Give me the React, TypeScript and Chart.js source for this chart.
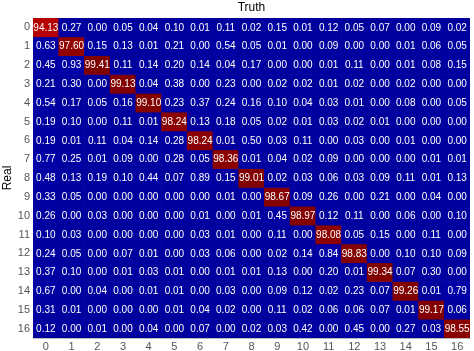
import React, { useEffect, useRef } from "react";
import { Chart, registerables } from "chart.js";

Chart.register(...registerables);

const truthLabels = ["0","1","2","3","4","5","6","7","8","9","10","11","12","13","14","15","16"];
const realLabels = ["0","1","2","3","4","5","6","7","8","9","10","11","12","13","14","15","16"];

const row0 = [94.13,0.27,0.00,0.05,0.04,0.10,0.01,0.11,0.02,0.15,0.01,0.12,0.05,0.07,0.00,0.09,0.02];
const row1 = [0.63,97.60,0.15,0.13,0.01,0.21,0.00,0.54,0.05,0.01,0.00,0.09,0.00,0.00,0.01,0.06,0.05];
const row2 = [0.45,0.93,99.41,0.11,0.14,0.20,0.14,0.04,0.17,0.00,0.00,0.01,0.11,0.00,0.01,0.08,0.15];
const row3 = [0.21,0.30,0.00,99.13,0.04,0.38,0.00,0.23,0.00,0.02,0.02,0.01,0.02,0.00,0.02,0.00,0.00];
const row4 = [0.54,0.17,0.05,0.16,99.10,0.23,0.37,0.24,0.16,0.10,0.04,0.03,0.01,0.00,0.08,0.00,0.05];
const row5 = [0.19,0.10,0.00,0.11,0.01,98.24,0.13,0.18,0.05,0.02,0.01,0.03,0.02,0.01,0.00,0.00,0.00];
const row6 = [0.19,0.01,0.11,0.04,0.14,0.28,98.24,0.01,0.50,0.03,0.11,0.00,0.03,0.00,0.01,0.00,0.00];
const row7 = [0.77,0.25,0.01,0.09,0.00,0.28,0.05,98.36,0.01,0.04,0.02,0.09,0.00,0.00,0.00,0.01,0.01];
const row8 = [0.48,0.13,0.19,0.10,0.44,0.07,0.89,0.15,99.01,0.02,0.03,0.06,0.03,0.09,0.11,0.01,0.13];
const row9 = [0.33,0.05,0.00,0.00,0.00,0.00,0.00,0.01,0.00,98.67,0.09,0.26,0.00,0.21,0.00,0.04,0.00];
const row10 = [0.26,0.00,0.03,0.00,0.00,0.00,0.01,0.00,0.01,0.45,98.97,0.12,0.11,0.00,0.06,0.00,0.10];
const row11 = [0.10,0.03,0.00,0.00,0.00,0.00,0.03,0.01,0.00,0.11,0.00,98.08,0.05,0.15,0.00,0.11,0.00];
const row12 = [0.24,0.05,0.00,0.07,0.01,0.00,0.03,0.06,0.00,0.02,0.14,0.84,98.83,0.00,0.10,0.10,0.09];
const row13 = [0.37,0.10,0.00,0.01,0.03,0.01,0.00,0.01,0.01,0.13,0.00,0.20,0.01,99.34,0.07,0.30,0.00];
const row14 = [0.67,0.00,0.04,0.00,0.01,0.01,0.00,0.03,0.00,0.09,0.12,0.02,0.23,0.07,99.26,0.01,0.79];
const row15 = [0.31,0.01,0.00,0.00,0.00,0.01,0.04,0.02,0.00,0.11,0.02,0.06,0.06,0.07,0.01,99.17,0.06];
const row16 = [0.12,0.00,0.01,0.00,0.04,0.00,0.07,0.00,0.02,0.03,0.42,0.00,0.45,0.00,0.27,0.03,98.55];

const matrix = [row0,row1,row2,row3,row4,row5,row6,row7,row8,row9,row10,row11,row12,row13,row14,row15,row16];

const maxVal = Math.max(...matrix.map((r) => Math.max(...r)));

function jet(t: number): string {
  const s = 0.03 + t * 0.97;
  const c = (v: number) => Math.round(255 * Math.max(0, Math.min(1, v)));
  const r = c(1.5 - Math.abs(4 * s - 3));
  const g = c(1.5 - Math.abs(4 * s - 2));
  const b = c(1.5 - Math.abs(4 * s - 1));
  return `rgb(${r},${g},${b})`;
}

const cellTextPlugin = {
  id: "cellText",
  afterDatasetsDraw(chart: any) {
    const ctx = chart.ctx;
    ctx.save();
    ctx.fillStyle = "#ffffff";
    ctx.font = '10px "Liberation Sans", Arial, sans-serif';
    ctx.textAlign = "center";
    ctx.textBaseline = "middle";
    chart.data.datasets.forEach((ds: any, di: number) => {
      const meta = chart.getDatasetMeta(di);
      meta.data.forEach((el: any, i: number) => {
        const p = el.getCenterPoint();
        ctx.fillText(ds.values[i].toFixed(2), p.x, p.y + 0.5);
      });
    });
    ctx.restore();
  },
};

export default function App() {
  const ref = useRef<HTMLCanvasElement>(null);
  useEffect(() => {
    document.body.style.margin = "0";
    Chart.defaults.font.family = '"Liberation Sans", Arial, sans-serif';
    const datasets = matrix.map((row, r) => ({
      label: realLabels[r],
      values: row,
      data: row.map((_, c) => ({ x: truthLabels[c], y: [r - 0.5, r + 0.5] })),
      backgroundColor: row.map((v) => jet(v / maxVal)),
      borderWidth: 0,
      barPercentage: 1,
      categoryPercentage: 1,
      grouped: false,
    }));
    const chart = new Chart(ref.current!, {
      type: "bar",
      data: { labels: truthLabels, datasets: datasets as any },
      options: {
        animation: false,
        responsive: false,
        maintainAspectRatio: false,
        layout: { padding: { top: 0, right: 4, bottom: 0, left: 0 } },
        plugins: {
          legend: { display: false },
          tooltip: { enabled: false },
          title: {
            display: true,
            text: "Truth",
            fullSize: false,
            color: "#000",
            font: { size: 12, weight: "normal" },
            padding: { top: 0, bottom: 3.6 },
          },
        },
        scales: {
          x: {
            type: "category",
            grid: { display: false, drawTicks: false },
            border: { display: true, color: "#bbbbbb" },
            ticks: { color: "#555", font: { size: 11 }, padding: 2, maxRotation: 0, autoSkip: false },
            afterFit: (s: any) => { s.height = 13; },
          },
          y: {
            type: "linear",
            min: -0.5,
            max: 16.5,
            reverse: true,
            grid: { display: false, drawTicks: false },
            border: { display: false },
            afterBuildTicks: (s: any) => { s.ticks = realLabels.map((_, i) => ({ value: i })); },
            ticks: {
              color: "#555",
              font: { size: 11 },
              padding: 3,
              autoSkip: false,
              callback: (v: any) => realLabels[Math.round(Number(v))],
            },
            title: { display: true, text: "Real", color: "#000", font: { size: 12 }, padding: 0 },
            afterFit: (s: any) => { s.width = 33; },
          },
        },
      },
      plugins: [cellTextPlugin],
    });
    return () => chart.destroy();
  }, []);
  return (
    <div style={{ width: 474, height: 351 }}>
      <canvas ref={ref} width={474} height={351} style={{ display: "block" }} />
    </div>
  );
}
